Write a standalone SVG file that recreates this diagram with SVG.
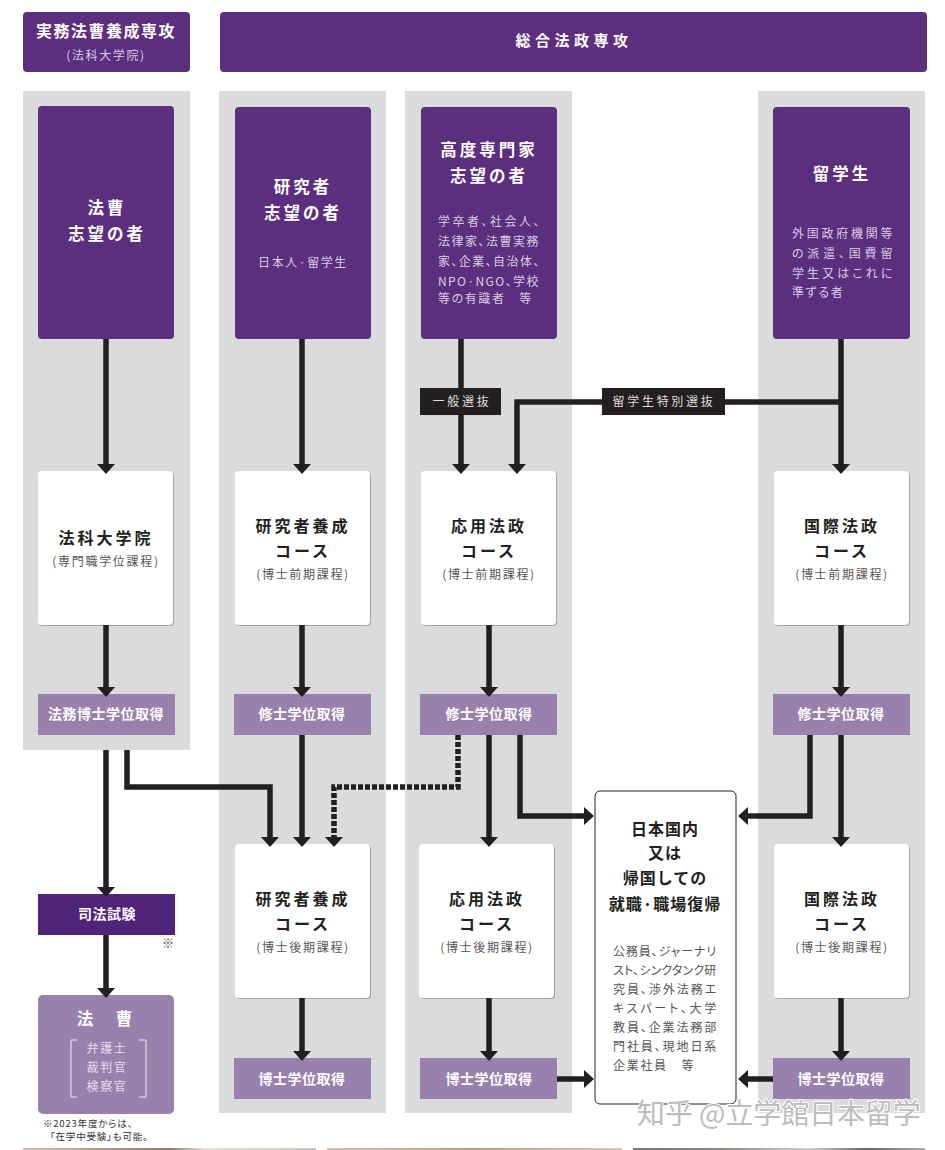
<svg xmlns="http://www.w3.org/2000/svg" width="945" height="1150" viewBox="0 0 945 1150">
<style>
text{font-family:"Noto Sans CJK JP","Noto Sans CJK SC",sans-serif;text-anchor:middle}
.panel{fill:#dadbdd}
.pur{fill:#5c2e7e}
.wht{fill:#fff;filter:drop-shadow(1px 1.5px 0.5px #a5a5a8)}
.bar{fill:#9a80ad}
.t{font-size:16.5px;font-weight:700;letter-spacing:3px;fill:#fff}
.k{font-size:16px;font-weight:700;letter-spacing:3px;fill:#231f20}
.s{font-size:12px;letter-spacing:1.6px;fill:#d9cde2}
.l{text-anchor:start;font-feature-settings:"palt"}
.g{font-size:12px;letter-spacing:1.700px;fill:#555}
.b{font-size:14px;font-weight:700;letter-spacing:.5px;fill:#fff}
.lab{font-size:12px;letter-spacing:2.700px;fill:#ddd}
.c{fill:none;stroke:#231f20;stroke-width:5.500}
.wm{font-size:27.900px;fill:#bcbcbc;stroke:#fff;stroke-width:2px;paint-order:stroke;text-anchor:start}
</style>
<defs>
<marker id="h" markerUnits="userSpaceOnUse" markerWidth="12" markerHeight="20" refX="5" refY="10" orient="auto"><path d="M0 1L10 10L0 19Z" fill="#231f20"/></marker>
<linearGradient id="p1"><stop offset="0" stop-color="#cfc2ad"/><stop offset=".5" stop-color="#8f7c63"/><stop offset=".62" stop-color="#e6e3de"/><stop offset="1" stop-color="#c9c6c1"/></linearGradient>
<linearGradient id="p2"><stop offset="0" stop-color="#d3c4ac"/><stop offset=".5" stop-color="#b89e7c"/><stop offset="1" stop-color="#d8cab6"/></linearGradient>
<linearGradient id="p3"><stop offset="0" stop-color="#77777b"/><stop offset=".3" stop-color="#8d8a86"/><stop offset=".6" stop-color="#d0cfcd"/><stop offset=".8" stop-color="#66666a"/><stop offset="1" stop-color="#b0b0b2"/></linearGradient>
</defs>
<g id="panels">
<rect class="panel" x="23" y="91" width="167" height="659"/>
<rect class="panel" x="219" y="91" width="167" height="1022"/>
<rect class="panel" x="405" y="91" width="167" height="1022"/>
<rect class="panel" x="758" y="91" width="167" height="1022"/>
</g>
<g id="photos">
<rect x="23" y="1148" width="293" height="2" fill="url(#p1)"/>
<rect x="327" y="1148" width="295" height="2" fill="url(#p2)"/>
<rect x="633" y="1148" width="292" height="2" fill="url(#p3)"/>
</g>
<g id="head-1"><rect class="pur" x="23" y="12" width="167" height="60" rx="4"/><text class="t" x="106" y="37" style="letter-spacing:1.500px;font-size:16px">実務法曹養成専攻</text><text class="s" x="106" y="60">(法科大学院)</text></g>
<g id="head-2"><rect class="pur" x="220" y="12" width="707" height="60" rx="4"/><text class="t" x="574" y="46" style="font-size:15px;letter-spacing:4.500px">総合法政専攻</text></g>
<g id="src-1"><rect class="pur" x="38" y="106" width="136" height="233" rx="4"/><text class="t" x="107" y="214">法曹</text><text class="t" x="107" y="240">志望の者</text></g>
<g id="src-2"><rect class="pur" x="235" y="107" width="136" height="232" rx="4"/><text class="t" x="303" y="193">研究者</text><text class="t" x="303" y="219">志望の者</text><text class="s" x="303" y="267">日本人·留学生</text></g>
<g id="src-3"><rect class="pur" x="421" y="107" width="136" height="232" rx="4"/><text class="t" x="489" y="156">高度専門家</text><text class="t" x="489" y="182">志望の者</text>
<text class="s l" x="438" y="226" textLength="103">学卒者、社会人、</text><text class="s l" x="438" y="246" textLength="102">法律家、法曹実務</text><text class="s l" x="438" y="266" textLength="103">家、企業、自治体、</text><text class="s l" x="438" y="286" textLength="102">NPO·NGO、学校</text><text class="s l" x="438" y="303">等の有識者　等</text></g>
<g id="src-4"><rect class="pur" x="773" y="107" width="137" height="232" rx="4"/><text class="t" x="842" y="180">留学生</text>
<text class="s l" x="792" y="238" textLength="102">外国政府機関等</text><text class="s l" x="792" y="258" textLength="102">の派遣、国費留</text><text class="s l" x="792" y="278" textLength="102">学生又はこれに</text><text class="s l" x="792" y="297">準ずる者</text></g>
<g id="c1-1"><rect class="wht" x="38" y="471" width="135" height="154" rx="4"/><text class="k" x="106" y="544">法科大学院</text><text class="g" x="106" y="566">(専門職学位課程)</text></g>
<g id="c2-1"><rect class="wht" x="235" y="471" width="135" height="154" rx="4"/><text class="k" x="303" y="532">研究者養成</text><text class="k" x="303" y="557">コース</text><text class="g" x="303" y="579">(博士前期課程)</text></g>
<g id="c3-1"><rect class="wht" x="421" y="471" width="135" height="154" rx="4"/><text class="k" x="489" y="532">応用法政</text><text class="k" x="489" y="557">コース</text><text class="g" x="489" y="579">(博士前期課程)</text></g>
<g id="c4-1"><rect class="wht" x="774" y="471" width="135" height="154" rx="4"/><text class="k" x="842" y="532">国際法政</text><text class="k" x="842" y="557">コース</text><text class="g" x="842" y="579">(博士前期課程)</text></g>
<g id="c2-2"><rect class="wht" x="235" y="844" width="135" height="154" rx="4"/><text class="k" x="303" y="905">研究者養成</text><text class="k" x="303" y="930">コース</text><text class="g" x="303" y="952">(博士後期課程)</text></g>
<g id="c3-2"><rect class="wht" x="419" y="844" width="135" height="154" rx="4"/><text class="k" x="487" y="905">応用法政</text><text class="k" x="487" y="930">コース</text><text class="g" x="487" y="952">(博士後期課程)</text></g>
<g id="c4-2"><rect class="wht" x="774" y="844" width="135" height="154" rx="4"/><text class="k" x="842" y="905">国際法政</text><text class="k" x="842" y="930">コース</text><text class="g" x="842" y="952">(博士後期課程)</text></g>
<g id="d1"><rect class="bar" x="38" y="694" width="137" height="41"/><text class="b" x="106" y="719">法務博士学位取得</text></g>
<g id="d2"><rect class="bar" x="234" y="694" width="137" height="41"/><text class="b" x="302" y="719">修士学位取得</text></g>
<g id="d3"><rect class="bar" x="420" y="694" width="137" height="41"/><text class="b" x="489" y="719">修士学位取得</text></g>
<g id="d4"><rect class="bar" x="773" y="694" width="137" height="41"/><text class="b" x="841" y="719">修士学位取得</text></g>
<g id="d5"><rect class="bar" x="234" y="1058" width="137" height="41"/><text class="b" x="302" y="1084">博士学位取得</text></g>
<g id="d6"><rect class="bar" x="420" y="1058" width="137" height="41"/><text class="b" x="489" y="1084">博士学位取得</text></g>
<g id="d7"><rect class="bar" x="773" y="1058" width="137" height="41"/><text class="b" x="841" y="1084">博士学位取得</text></g>
<g id="exam"><rect x="38" y="894" width="137" height="41" fill="#4f2479"/><text class="b" x="107" y="919">司法試験</text><text x="168" y="948" style="font-size:12px;fill:#444">※</text></g>
<g id="hosso"><rect class="bar" x="38" y="995" width="136" height="119" rx="5"/><text class="t" x="106" y="1025">法　曹</text>
<text class="s" x="107" y="1053" style="fill:#e6deec">弁護士</text><text class="s" x="107" y="1072" style="fill:#e6deec">裁判官</text><text class="s" x="107" y="1091" style="fill:#e6deec">検察官</text>
<path d="M77 1040H71V1097H77M139 1040H146V1097H139" fill="none" stroke="#f0ebf4" stroke-width="1"/></g>
<g id="note"><text class="l" x="43" y="1127" style="font-size:9.500px;letter-spacing:.8px;fill:#333">※2023年度からは、</text><text class="l" x="50" y="1140" style="font-size:9.500px;letter-spacing:.8px;fill:#333">「在学中受験」も可能。</text></g>
<g id="career"><rect x="595" y="791" width="141" height="313" rx="5" fill="#fff" stroke="#231f20" stroke-width="1"/>
<text class="k" x="665" y="835" style="letter-spacing:1px">日本国内</text><text class="k" x="665" y="859" style="letter-spacing:1px">又は</text><text class="k" x="665" y="884" style="letter-spacing:1px">帰国しての</text><text class="k" x="665" y="910" style="letter-spacing:1px">就職·職場復帰</text>
<text class="g l" x="613" y="956" textLength="105">公務員、ジャーナリ</text><text class="g l" x="613" y="975" textLength="105">スト、シンクタンク研</text><text class="g l" x="613" y="994" textLength="105">究員、渉外法務エ</text><text class="g l" x="613" y="1013" textLength="105">キスパート、大学</text><text class="g l" x="613" y="1032" textLength="105">教員、企業法務部</text><text class="g l" x="613" y="1051" textLength="105">門社員、現地日系</text><text class="g l" x="613" y="1070">企業社員　等</text></g>
<g id="connectors">
<path class="c" marker-end="url(#h)" d="M106 339V469"/>
<path class="c" marker-end="url(#h)" d="M302 339V469"/>
<path class="c" marker-end="url(#h)" d="M461 339V469"/>
<path class="c" marker-end="url(#h)" d="M841 339V469"/>
<path class="c" marker-end="url(#h)" d="M841 402H517V469"/>
<path class="c" marker-end="url(#h)" d="M106 625V692"/>
<path class="c" marker-end="url(#h)" d="M302 625V692"/>
<path class="c" marker-end="url(#h)" d="M489 625V692"/>
<path class="c" marker-end="url(#h)" d="M841 625V692"/>
<path class="c" marker-end="url(#h)" d="M106 750V892"/>
<path class="c" marker-end="url(#h)" d="M106 935V993"/>
<path class="c" marker-end="url(#h)" d="M127 750V787H270V842"/>
<path class="c" marker-end="url(#h)" d="M302 735V842"/>
<path class="c" stroke-dasharray="5 2" marker-end="url(#h)" d="M458 735V787H334V842"/>
<path class="c" marker-end="url(#h)" d="M489 735V842"/>
<path class="c" marker-end="url(#h)" d="M841 735V842"/>
<path class="c" marker-end="url(#h)" d="M520 735V816H589"/>
<path class="c" marker-end="url(#h)" d="M810 735V816H743"/>
<path class="c" marker-end="url(#h)" d="M302 998V1056"/>
<path class="c" marker-end="url(#h)" d="M489 998V1056"/>
<path class="c" marker-end="url(#h)" d="M841 998V1056"/>
<path class="c" marker-end="url(#h)" d="M557 1079H589"/>
<path class="c" marker-end="url(#h)" d="M773 1079H743"/>
</g>
<g id="sel-1"><rect x="420" y="388" width="81" height="27" fill="#231f20"/><text class="lab" x="462" y="406">一般選抜</text></g>
<g id="sel-2"><rect x="602" y="388" width="123" height="27" fill="#231f20"/><text class="lab" x="664" y="406">留学生特別選抜</text></g>
<text id="watermark" class="wm" x="637" y="1124">知乎 @立学館日本留学</text>
</svg>
